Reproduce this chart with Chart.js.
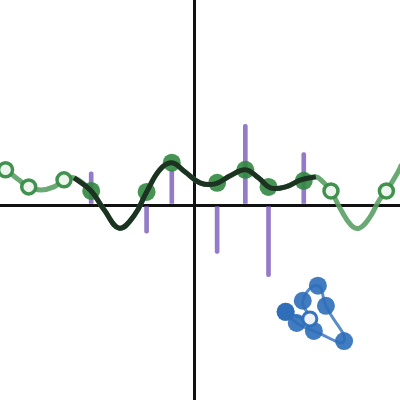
<!DOCTYPE html>
<html><head><script src="https://cdn.jsdelivr.net/npm/chart.js@4"></script>
<style>html,body{margin:0;padding:0;background:#fff;overflow:hidden}#o{width:400px;height:400px;overflow:hidden;position:relative}#w{position:absolute;left:-12px;top:-12px;width:424px;height:424px}</style></head>
<body><div id="o"><div id="w"><canvas id="c"></canvas></div></div>
<script>
// values in chart units (origin at the axes crossing)
const lightX=[-195,-188,-175,-165,-153,-140,-130,-120,-103,-90,-75,-60,-48,-35,-23,-10,5,20,35,50,63,75,90,105,120,127,135,145,155,163,173,183,190,200,205];
const lightY=[37,35,25,18,15,18,25,27,14,-5,-23,-10,13,35,42,33,22,21,29,35,27,17,18,25,28,23,14,-5,-20,-23,-13,5,14,30,40];
const darkX=[-120,-103,-90,-75,-60,-48,-35,-23,-10,5,20,35,50,63,75,90,105,120];
const darkY=[27,14,-5,-23,-10,13,35,42,33,22,21,29,35,27,17,18,25,28];
const openX=[-188,-165,-130,135,190];
const openY=[35,18,25,14,14];
const fillX=[-103,-48,-23,22,50,73,108];
const fillY=[14,13,42,22,35,18,24];
const barX=[-103,-48,-23,22,50,73,108];
const barY=[33,-28,35,-48,80,-71,52];
const loopX=[90,101,118,148,130,122,107,114,90];
const loopY=[-106,-117,-125,-135,-100,-80,-95,-113,-106];
const pts=(xs,ys)=>xs.map((x,i)=>({x,y:ys[i]}));
const green='rgba(56,140,70,0.95)';
new Chart(document.getElementById('c'),{
 data:{datasets:[
  {type:'bar',data:pts(barX,barY),backgroundColor:'rgba(128,100,190,0.85)',barThickness:4,borderRadius:2,order:5},
  {type:'line',data:pts(lightX,lightY),borderColor:'rgba(90,160,100,0.9)',borderWidth:5,tension:0.4,pointRadius:0,order:4},
  {type:'line',data:pts(darkX,darkY),borderColor:'#1c3322',borderWidth:5,tension:0.4,pointRadius:0,order:2},
  {type:'scatter',data:pts(fillX,fillY),backgroundColor:'rgba(50,135,65,0.9)',pointRadius:9,borderWidth:0,order:3},
  {type:'scatter',data:pts(openX,openY),backgroundColor:'#eef5ee',borderColor:green,borderWidth:3.5,pointRadius:7,order:1},
  {type:'line',data:pts(loopX,loopY),borderColor:'rgba(60,120,190,0.85)',borderWidth:3,tension:0.5,showLine:true,
   backgroundColor:'rgba(45,110,185,0.9)',pointRadius:ctx=>ctx.dataIndex===7?0:9,pointBorderWidth:0,order:0},
  {type:'scatter',data:[{x:114,y:-113}],backgroundColor:'#eef3f8',borderColor:'rgba(45,110,185,0.95)',borderWidth:3,pointRadius:7,order:-1}
 ]},
 options:{responsive:true,maintainAspectRatio:false,animation:false,
  layout:{padding:0},
  plugins:{legend:{display:false},tooltip:{enabled:false}},
  scales:{
   x:{type:'linear',min:-195,max:205,offset:false,ticks:{display:false,stepSize:5},border:{display:false},
      grid:{offset:false,drawTicks:false,lineWidth:3,color:c=>c.tick&&c.tick.value===0?'#111':'transparent'}},
   y:{type:'linear',min:-195,max:205,ticks:{display:false,stepSize:5},border:{display:false},
      grid:{drawTicks:false,lineWidth:3,color:c=>c.tick&&c.tick.value===0?'#111':'transparent'}}
  }}
});
</script></body></html>
